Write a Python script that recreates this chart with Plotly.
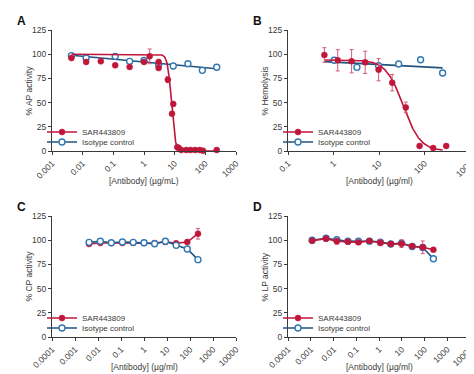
import numpy as np
import plotly.graph_objects as go

# ---------------- data ----------------
# Panel A: AP activity
a_sar_x = [0.0043, 0.013, 0.039, 0.115, 0.34, 1.0, 1.53, 3.0, 3.0, 6.0, 9.0, 8.2, 12.2, 13.5,
           16.4, 24, 33, 47, 66, 84, 235]
a_sar_y = [96, 92, 92.6, 88.5, 86.8, 92, 97.8, 92, 85.7, 73.7, 48.6, 38.5, 4, 3,
           1, 1, 1, 1, 1, 0.3, 1]
a_sar_err = [0, 0, 0, 0, 0, 0, 7.6, 0, 0, 3, 0, 0, 0, 0, 0, 0, 0, 0, 0, 0, 0]
a_iso_x = [0.0043, 0.013, 0.115, 0.34, 1.0, 3.0, 9.0, 27, 80, 235]
a_iso_y = [98.5, 96, 97.8, 92.6, 93.5, 89, 87.8, 90.2, 83.3, 86.5]
a_sar_fit = dict(top=100, bottom=0, ic50=7.8, hill=7.0)

# Panel B: Hemolysis
b_sar_x = [0.63, 1.24, 2.5, 4.97, 9.8, 19.5, 38.8, 78, 155, 300]
b_sar_y = [99.2, 93.7, 92.7, 91.6, 84, 70.6, 45, 5.2, 3.1, 5.2]
b_sar_err = [7.5, 11, 12, 11.5, 11.5, 8.5, 5.5, 0, 0, 0]
b_iso_x = [1.04, 3.27, 9.8, 27, 82, 250]
b_iso_y = [93.7, 86.4, 88, 89.9, 94.3, 80.6]
b_sar_fit = dict(top=94, bottom=0, ic50=34, hill=2.3)
b_fit_range = [0.63, 250]

# Panel C: CP activity
c_x = [0.0041, 0.0126, 0.038, 0.115, 0.34, 1.0, 2.9, 8.5, 25, 76, 222]
c_sar_y = [96.1, 97.1, 97.1, 97.1, 97.1, 97.1, 96.8, 98.4, 96.8, 98.1, 106.7]
c_sar_err = [1, 1, 1, 1, 1, 2, 3, 3, 2, 2, 5.5]
c_iso_y = [97.8, 98.9, 97.4, 98.1, 97.8, 97.4, 96.4, 98.9, 94.7, 90.9, 79.9]

# Panel D: LP activity
d_x = [0.00115, 0.0047, 0.014, 0.043, 0.125, 0.38, 1.15, 3.3, 9.8, 28.8, 84, 246]
d_sar_y = [99.5, 101.6, 98.9, 98.5, 97.8, 99.2, 97.4, 96.1, 96.4, 93.7, 92.7, 90.2]
d_sar_err = [0.5, 0.5, 3, 1, 1, 1, 3, 2, 4, 2, 6.5, 0]
d_iso_y = [100, 102, 100.5, 99, 98.9, 99, 98, 96, 97, 93.5, 92.5, 80.9]

y_ticks = [0, 25, 50, 75, 100, 125]
x_ticks_a = ["0.001", "0.01", "0.1", "1", "10", "100", "1000"]
x_ticks_b = ["0.1", "1", "10", "100", "1000"]
x_ticks_cd = ["0.0001", "0.001", "0.01", "0.1", "1", "10", "100", "1000", "10000"]
panel_letters = ["A", "B", "C", "D"]
y_titles = ["% AP activity", "% Hemolysis", "% CP activity", "% LP activity"]
x_titles = ["[Antibody] (\u00b5g/mL)", "[Antibody] (\u00b5g/ml)", "[Antibody] (\u00b5g/ml)", "[Antibody] (\u00b5g/ml)"]
series_names = ["SAR443809", "Isotype control"]

# ---------------- style ----------------
RED = "#C0163A"
RED_ERR = "#D45A78"
BLUE_LINE = "#24527D"
BLUE_MK = "#2F78B4"
AX = "#3a3a3a"
FONT = "Liberation Sans Narrow, Liberation Sans, Arial, sans-serif"
W, H = 474, 374


def fx(p):
    return p / W


def fy(p):
    return 1 - p / H


def four_pl(x, top, bottom, ic50, hill):
    return bottom + (top - bottom) / (1 + (x / ic50) ** hill)


# pixel boxes [x0, x1, ytop, ybottom]
boxes = [(44, 228, 22, 143), (280, 462, 22, 143), (44, 228, 208, 329), (280, 462, 208, 329)]
ranges = [[-3, 3], [-1, 3], [-4, 4], [-4, 4]]
ticktexts = [x_ticks_a, x_ticks_b, x_ticks_cd, x_ticks_cd]

fig = go.Figure()

red_marker = dict(color=RED, size=6, line=dict(color=RED, width=0.5))
blue_marker = dict(color="white", size=6, line=dict(color=BLUE_MK, width=1.4))
err_style = dict(type="data", color=RED_ERR, thickness=1, width=2)


def ax_ref(i):
    return ("x" if i == 0 else f"x{i+1}"), ("y" if i == 0 else f"y{i+1}")


def leg_ref(i, k):
    n = 2 * i + k + 1
    return "legend" if n == 1 else f"legend{n}"


# ---- Panel A and B (points + fitted curves) ----
fit_panels = [
    (a_sar_x, a_sar_y, a_sar_err, a_iso_x, a_iso_y, a_sar_fit, [min(a_sar_x), max(a_sar_x)]),
    (b_sar_x, b_sar_y, b_sar_err, b_iso_x, b_iso_y, b_sar_fit, b_fit_range),
]
for i, (sx, sy, se, ix, iy, fit, frange) in enumerate(fit_panels):
    xr, yr = ax_ref(i)
    coef = np.polyfit(np.log10(ix), iy, 1)
    lx = np.logspace(np.log10(min(min(ix), frange[0])), np.log10(max(ix)), 50)
    fig.add_trace(go.Scatter(x=lx, y=np.polyval(coef, np.log10(lx)), mode="lines",
                             line=dict(color=BLUE_LINE, width=1.6), xaxis=xr, yaxis=yr,
                             showlegend=False, hoverinfo="skip"))
    fig.add_trace(go.Scatter(x=ix, y=iy, mode="markers", marker=blue_marker, xaxis=xr, yaxis=yr,
                             showlegend=False, cliponaxis=False))
    fxv = np.logspace(np.log10(frange[0]), np.log10(frange[1]), 400)
    fig.add_trace(go.Scatter(x=fxv, y=four_pl(fxv, **fit), mode="lines",
                             line=dict(color=RED, width=1.6), xaxis=xr, yaxis=yr,
                             showlegend=False, hoverinfo="skip"))
    fig.add_trace(go.Scatter(x=sx, y=sy, mode="markers", marker=red_marker,
                             error_y=dict(array=se, **err_style), xaxis=xr, yaxis=yr,
                             showlegend=False, cliponaxis=False))
    # legend-only entries (no data)
    fig.add_trace(go.Scatter(x=[None], y=[None], mode="lines+markers", name=series_names[0],
                             marker=red_marker, line=dict(color=RED, width=1.6),
                             xaxis=xr, yaxis=yr, legend=leg_ref(i, 0)))
    fig.add_trace(go.Scatter(x=[None], y=[None], mode="lines+markers", name=series_names[1],
                             marker=blue_marker, line=dict(color=BLUE_LINE, width=1.6),
                             xaxis=xr, yaxis=yr, legend=leg_ref(i, 1)))

# ---- Panel C and D (connected points) ----
line_panels = [(c_x, c_sar_y, c_sar_err, c_iso_y), (d_x, d_sar_y, d_sar_err, d_iso_y)]
for j, (xx, sy, se, iy) in enumerate(line_panels):
    i = j + 2
    xr, yr = ax_ref(i)
    sar = go.Scatter(x=xx, y=sy, mode="lines+markers", name=series_names[0], marker=red_marker,
                     line=dict(color=RED, width=1.6), error_y=dict(array=se, **err_style),
                     xaxis=xr, yaxis=yr, legend=leg_ref(i, 0), cliponaxis=False)
    iso = go.Scatter(x=xx, y=iy, mode="lines+markers", name=series_names[1], marker=blue_marker,
                     line=dict(color=BLUE_LINE, width=1.6), xaxis=xr, yaxis=yr,
                     legend=leg_ref(i, 1), cliponaxis=False)
    if j == 0:
        fig.add_trace(sar)
        fig.add_trace(iso)
    else:
        fig.add_trace(iso)
        fig.add_trace(sar)

# ---------------- layout ----------------
layout = dict(width=W, height=H, margin=dict(l=0, r=0, t=0, b=0, autoexpand=False),
              paper_bgcolor="white", plot_bgcolor="white",
              font=dict(family=FONT, size=8, color=AX), annotations=[])
for i, (x0, x1, yt, yb) in enumerate(boxes):
    sfx = "" if i == 0 else str(i + 1)
    tv = [10 ** k for k in range(ranges[i][0], ranges[i][1] + 1)]
    layout["xaxis" + sfx] = dict(domain=[fx(x0), fx(x1)], type="log", range=ranges[i],
                                 anchor="y" + sfx, tickvals=tv, ticktext=ticktexts[i], tickangle=-45,
                                 showline=True, linecolor=AX, linewidth=1.3, ticks="outside",
                                 ticklen=3, tickcolor=AX, showgrid=False, zeroline=False,
                                 automargin=False, tickfont=dict(size=8.5, color=AX))
    layout["yaxis" + sfx] = dict(domain=[fy(yb), fy(yt)], range=[0, 125], anchor="x" + sfx,
                                 tickvals=y_ticks, showline=True, linecolor=AX, linewidth=1.3,
                                 ticks="outside", ticklen=3, tickcolor=AX, showgrid=False,
                                 zeroline=False, automargin=False, tickfont=dict(size=8.5, color=AX))
    # one legend per row so rows can sit close together
    for k, row_y in enumerate([yb - 19, yb - 9]):
        layout[leg_ref(i, k)] = dict(x=fx(x0 - 10), y=fy(row_y), xanchor="left", yanchor="middle",
                                     bgcolor="rgba(0,0,0,0)", font=dict(size=8, color=AX),
                                     itemwidth=30, borderwidth=0)
    layout["annotations"].append(dict(text="<b>%s</b>" % panel_letters[i], x=fx(x0 - 37), y=fy(yt - 9),
                                      xref="paper", yref="paper", xanchor="left", yanchor="middle",
                                      showarrow=False,
                                      font=dict(family="Liberation Sans, Arial", size=12, color="#111")))
    layout["annotations"].append(dict(text=y_titles[i], x=fx(x0 - 24), y=fy((yt + yb) / 2),
                                      xref="paper", yref="paper", textangle=-90, showarrow=False,
                                      xanchor="center", yanchor="middle",
                                      font=dict(size=8.5, color=AX)))
    layout["annotations"].append(dict(text=x_titles[i], x=fx((x0 + x1) / 2), y=fy(yb + 30),
                                      xref="paper", yref="paper", showarrow=False,
                                      xanchor="center", yanchor="middle",
                                      font=dict(size=8.5, color=AX)))
fig.update_layout(**layout)
fig.write_html("out.html")
